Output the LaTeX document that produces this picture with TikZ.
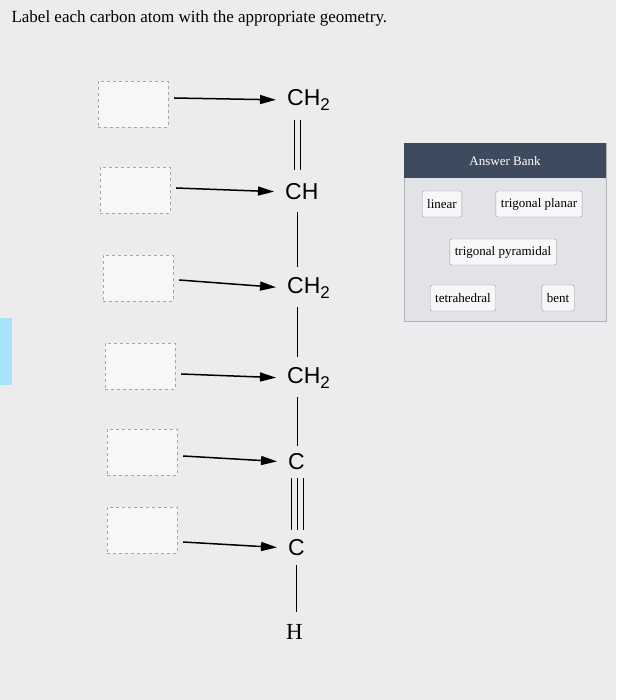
\documentclass[tikz,border=0pt]{standalone}
\usepackage{fontspec}
\setmainfont{Liberation Serif}
\setsansfont{Liberation Sans}
\usetikzlibrary{arrows.meta}
\definecolor{bg}{HTML}{ECECEE}
\definecolor{hdr}{HTML}{3E4B5E}
\definecolor{panel}{HTML}{E2E3E6}
\newcommand{\subtwo}{\raisebox{-5pt}{\fontsize{17}{17}\selectfont 2}}
\tikzset{
 ansbox/.style={draw=gray!70,dashed,fill=white!60!bg,minimum width=70pt,minimum height=46pt,inner sep=0pt},
 lbl/.style={-{Triangle[length=16pt,width=9pt]},line width=1.5pt,shorten >=10pt},
 atom/.style={font=\sffamily\fontsize{23}{24}\selectfont,inner sep=1pt,anchor=west},
 bond/.style={line width=1pt},
 chip/.style={draw=gray!80,fill=white!70!panel,rounded corners=2pt,font=\fontsize{13}{15}\selectfont,minimum height=26pt,inner xsep=5pt}
}
\begin{document}
\begin{tikzpicture}[x=1pt,y=-1pt]
\fill[bg] (0,0) rectangle (616,700);
\useasboundingbox (0,0) rectangle (616,700);
\fill[cyan!35] (0,318) rectangle (12,385);
\node[anchor=west,font=\fontsize{17}{20}\selectfont] (title) at (8,18) {Label each carbon atom with the appropriate geometry.};
% boxes
\node[ansbox] (b1) at (133,104) {};
\node[ansbox] (b2) at (135,190) {};
\node[ansbox] (b3) at (138,278) {};
\node[ansbox] (b4) at (140,366) {};
\node[ansbox] (b5) at (142,452) {};
\node[ansbox] (b6) at (142,530) {};
% atoms
\node[atom] (c1) at (286,100) {CH\subtwo};
\node[atom] (c2) at (284,192) {CH};
\node[atom] (c3) at (286,288) {CH\subtwo};
\node[atom] (c4) at (286,378) {CH\subtwo};
\node[atom] (c5) at (287,462) {C};
\node[atom] (c6) at (287,548) {C};
\node[atom,font=\fontsize{23}{24}\selectfont] (h) at (285,632) {H};
% arrows
\draw[lbl] (b1.east)++(6,-6) -- (c1.west);
\draw[lbl] (b2.east)++(6,-2) -- (c2.west);
\draw[lbl] (b3.east)++(6,2) -- (c3.west);
\draw[lbl] (b4.east)++(6,8) -- (c4.west);
\draw[lbl] (b5.east)++(6,4) -- (c5.west);
\draw[lbl] (b6.east)++(6,12) -- (c6.west);
% bonds
\draw[bond] (294,120) -- (294,170) (300,120) -- (300,170);
\draw[bond] (297,212) -- (297,267);
\draw[bond] (297,307) -- (297,357);
\draw[bond] (297,397) -- (297,446);
\draw[bond] (291,478) -- (291,530) (297,478) -- (297,530) (303,478) -- (303,530);
\draw[bond] (296,565) -- (296,612);
% answer bank
\fill[panel] (404,143) rectangle (606,321);
\draw[gray!60] (404,143) rectangle (606,321);
\fill[hdr] (404,143) rectangle (606,178);
\node[text=white,font=\fontsize{13}{15}\selectfont] (ab) at (505,161) {Answer Bank};
\node[chip] (lin) at (442,204) {linear};
\node[chip] (tp) at (539,204) {trigonal planar};
\node[chip] (tpy) at (503,252) {trigonal pyramidal};
\node[chip] (tet) at (463,298) {tetrahedral};
\node[chip] (bent) at (558,298) {bent};
\end{tikzpicture}
\end{document}
